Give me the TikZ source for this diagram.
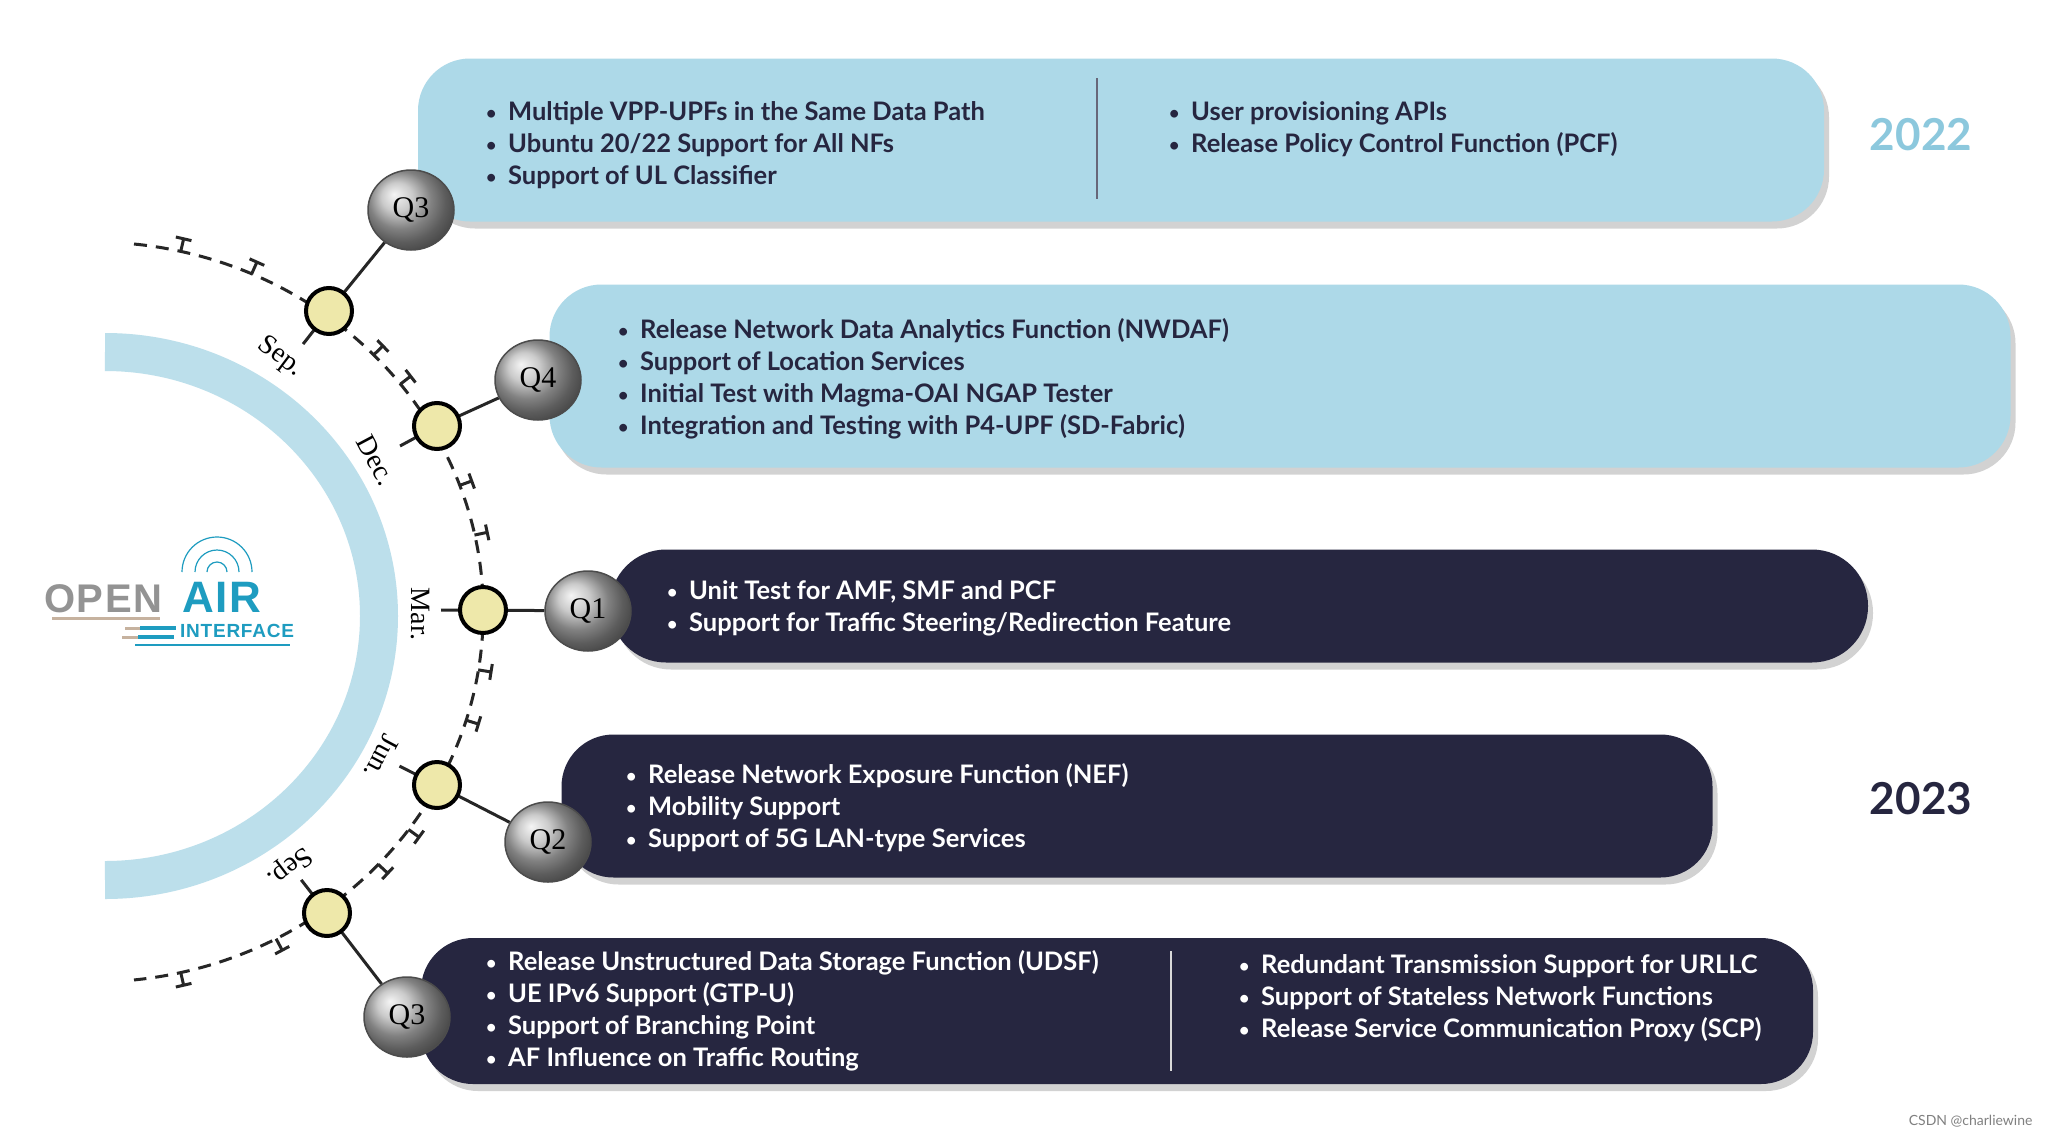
\documentclass[tikz,border=0pt]{standalone}
\usepackage{fontspec}
\usepackage{graphicx}
\setmainfont{Lato}
\newfontfamily\serifq{Liberation Serif}
\newfontfamily\logof{Liberation Sans}[LetterSpace=4]
\usetikzlibrary{shadows,calc,shapes.geometric}
\definecolor{navy}{HTML}{262640}
\definecolor{lblue}{HTML}{ADD9E8}
\definecolor{arcblue}{HTML}{BCDFEB}
\definecolor{dotfill}{HTML}{EEE8AA}
\definecolor{teal}{HTML}{1E9CC0}
\definecolor{yr}{HTML}{8CC8DD}
\newcommand\bl{\makebox[22pt][l]{\raisebox{1pt}{\scalebox{0.7}{\textbullet}}}}
\tikzset{
  box/.style={rectangle,rounded corners=52pt,inner sep=0pt,drop shadow={shadow xshift=5pt,shadow yshift=-7pt,opacity=.35}},
  lbox/.style={box,fill=lblue},
  dbox/.style={box,fill=navy},
  txt/.style={anchor=north west,inner sep=0pt,align=left,font=\fontsize{25.5}{32}\selectfont\bfseries},
  ltxt/.style={txt,text=navy},
  dtxt/.style={txt,text=white},
  q/.style={ellipse,minimum width=86pt,minimum height=80pt,inner sep=0pt,ball color=gray!55,draw=black!70,line width=1.5pt,font=\serifq\fontsize{30}{30}\selectfont},
  dot/.style={circle,minimum size=46pt,inner sep=0pt,fill=dotfill,draw=black,line width=4pt},
  conn/.style={line width=3pt,black!85},
  mon/.style={font=\serifq\fontsize{28}{28}\selectfont,inner sep=0pt},
}
\begin{document}
\begin{tikzpicture}[x=1pt,y=-1pt]
\useasboundingbox (0,0) rectangle (2048,1138);
\fill[white] (0,0) rectangle (2048,1138);
% blue half ring
\draw[arcblue,line width=38pt] (105,352) arc[start angle=90,end angle=-90,x radius=274pt,y radius=264pt];
% logo
\node[inner sep=0pt,anchor=base west,text=gray!85,font=\logof\bfseries\fontsize{40}{40}\selectfont] (open) at (44,612) {OPEN};
\node[inner sep=0pt,anchor=base west,text=teal,font=\logof\bfseries\fontsize{44}{44}\selectfont] (air) at (182,612) {AIR};
\node[inner sep=0pt,anchor=base west,text=teal,font=\logof\bfseries\fontsize{19}{19}\selectfont] (intf) at (180,637) {INTERFACE};
\draw[teal,line width=1.2pt] (252,572) arc[start angle=0,end angle=180,radius=35pt];
\draw[teal,line width=1.2pt] (239,572) arc[start angle=0,end angle=180,radius=22pt];
\draw[teal,line width=1.2pt] (227,572) arc[start angle=0,end angle=180,radius=10pt];
\draw[brown!50!gray!60,line width=3pt] (52,618) -- (160,618);
\draw[brown!50!gray!60,line width=3pt] (125,628) -- (160,628) (122,637) -- (158,637);
\draw[teal,line width=4pt] (140,628) -- (176,628) (138,637) -- (174,637);
\draw[teal,line width=2pt] (135,645) -- (290,645);
% dashed arc
\draw[black!85,line width=3pt,dash pattern=on 13pt off 9pt] (134,244) arc[start angle=84,end angle=-84,x radius=390pt,y radius=370pt];
\foreach \a in {77,66,44,38,20,12,-9,-17,-36,-43,-62,-77}{
  \draw[black!85,line width=3pt,shift={({93+390*cos(\a)},{612-370*sin(\a)})},rotate=\a] (0pt,0pt) -- (13pt,0pt) (13pt,-8pt) -- (13pt,8pt);
}
\coordinate (ctr) at (93,612);
% boxes
\node[lbox,minimum width=1406pt,minimum height=163pt] (b1) at (1121,140) {};
\node[lbox,minimum width=1461pt,minimum height=183pt] (b2) at (1280,376) {};
\node[dbox,minimum width=1258pt,minimum height=113pt,rounded corners=56pt] (b3) at (1239,606) {};
\node[dbox,minimum width=1151pt,minimum height=143pt] (b4) at (1137,806) {};
\node[dbox,minimum width=1392pt,minimum height=146pt] (b5) at (1117,1011) {};
\draw[navy!70,line width=1.5pt] (1097,78) -- (1097,199);
\draw[white!70!gray,line width=1.5pt] (1171,951) -- (1171,1071);
% texts
\node[ltxt] (t1a) at (486,101) {\bl Multiple VPP-UPFs in the Same Data Path\\\bl Ubuntu 20/22 Support for All NFs\\\bl Support of UL Classifier};
\node[ltxt] (t1b) at (1169,101) {\bl User provisioning APIs\\\bl Release Policy Control Function (PCF)};
\node[ltxt] (t2) at (618,318) {\bl Release Network Data Analytics Function (NWDAF)\\\bl Support of Location Services\\\bl Initial Test with Magma-OAI NGAP Tester\\\bl Integration and Testing with P4-UPF (SD-Fabric)};
\node[dtxt] (t3) at (667,580) {\bl Unit Test for AMF, SMF and PCF\\\bl Support for Traffic Steering/Redirection Feature};
\node[dtxt] (t4) at (626,763) {\bl Release Network Exposure Function (NEF)\\\bl Mobility Support\\\bl Support of 5G LAN-type Services};
\node[dtxt] (t5a) at (486,950) {\bl Release Unstructured Data Storage Function (UDSF)\\\bl UE IPv6 Support (GTP-U)\\\bl Support of Branching Point\\\bl AF Influence on Traffic Routing};
\node[dtxt] (t5b) at (1239,954) {\bl Redundant Transmission Support for URLLC\\\bl Support of Stateless Network Functions\\\bl Release Service Communication Proxy (SCP)};
\node[text=yr,font=\bfseries\fontsize{44}{44}\selectfont] (y22) at (1921,135) {2022};
\node[text=navy,font=\bfseries\fontsize{44}{44}\selectfont] (y23) at (1921,799) {2023};
% dots
\coordinate (d1) at (329,311);
\coordinate (d2) at (437,426);
\coordinate (d3) at (483,610);
\coordinate (d4) at (437,785);
\coordinate (d5) at (327,913);
\node[q] (q1) at (411,210) {Q3};
\node[q] (q2) at (538,380) {Q4};
\node[q] (q3) at (588,611) {Q1};
\node[q] (q4) at (548,842) {Q2};
\node[q] (q5) at (407,1017) {Q3};
\foreach \i in {1,...,5}{
  \draw[conn] (q\i) -- (d\i) -- ($(d\i)!42pt!(ctr)$);
  \node[dot] (dd\i) at (d\i) {};
}
% months
\node[mon,rotate=-37] (m1) at (280,357) {Sep.};
\node[mon,rotate=-62] (m2) at (376,460) {Dec.};
\node[mon,rotate=-90] (m3) at (420,614) {Mar.};
\node[mon,rotate=-118] (m4) at (382,757) {Jun.};
\node[mon,rotate=-143] (m5) at (289,866) {Sep.};
\node[text=gray,font=\fontsize{14}{14}\selectfont,anchor=east] (wm) at (2036,1121) {CSDN @charliewine};
\end{tikzpicture}
\end{document}
